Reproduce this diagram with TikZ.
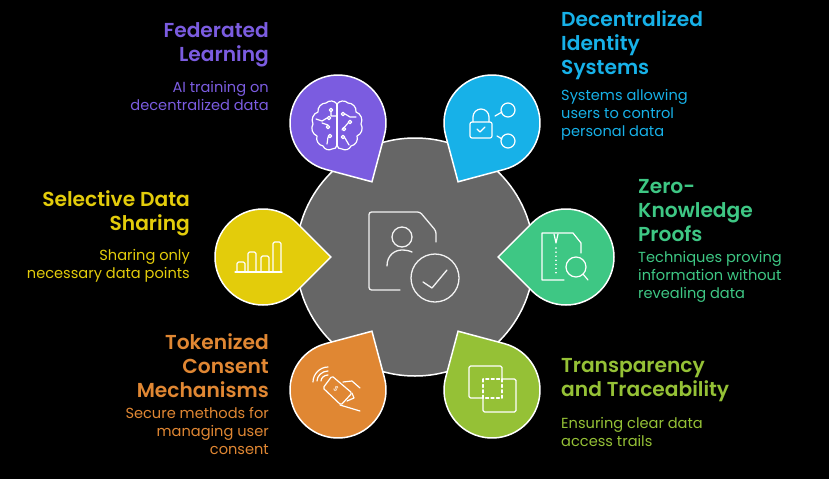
\documentclass[tikz,border=0pt]{standalone}
\usepackage{fontspec}
\setmainfont{Poppins}
\newfontfamily\headfont{Poppins SemiBold}
\usetikzlibrary{positioning}
\definecolor{purplepetal}{HTML}{7B5CE0}
\definecolor{bluepetal}{HTML}{17B1E8}
\definecolor{yellowpetal}{HTML}{E3CC0B}
\definecolor{greenpetal}{HTML}{3EC784}
\definecolor{orangepetal}{HTML}{E08733}
\definecolor{limepetal}{HTML}{95C136}
\definecolor{hubgray}{HTML}{666666}
\tikzset{
  hub/.style = {shape=circle, draw=white, line width=1.5pt, fill=hubgray,
    minimum size=238pt, inner sep=0pt},
  petal/.style = {draw=white, line width=1.5pt, line join=miter},
  icon/.style = {draw=white, line width=1.2pt, line cap=round, line join=round},
  bigicon/.style = {draw=white!92!hubgray, line width=1.3pt, line cap=round, line join=round},
  headleft/.style = {anchor=north east, align=right, inner sep=0pt,
    font={\headfont\fontsize{20.2}{24}\selectfont}},
  headright/.style = {anchor=north west, align=left, inner sep=0pt,
    font={\headfont\fontsize{20.2}{24}\selectfont}},
  textleft/.style = {anchor=north east, align=right, inner sep=0pt,
    font={\fontsize{14.6}{18}\selectfont}},
  textright/.style = {anchor=north west, align=left, inner sep=0pt,
    font={\fontsize{14.6}{18}\selectfont}}
}
% #1 centre, #2 direction of the tip, #3 colour
\newcommand{\petalshape}[3]{
  \draw[petal, fill=#3] (#1) ++(#2+45:48) arc[start angle=#2+45, end angle=#2+315, radius=48]
    -- ++(#2+45:48) -- cycle;
}
\begin{document}
\begin{tikzpicture}[x=1pt, y=-1pt]
  \useasboundingbox (0,0) rectangle (829,479);
  \fill[black] (0,0) rectangle (829,479);

  \node[hub] (hub) at (415,257) {};

  \petalshape{338,123}{60}{purplepetal}
  \petalshape{492,123}{120}{bluepetal}
  \petalshape{263,257}{0}{yellowpetal}
  \petalshape{566,257}{180}{greenpetal}
  \petalshape{338,390}{-60}{orangepetal}
  \petalshape{492,390}{-120}{limepetal}

  % centre icon
  \draw[bigicon, rounded corners=2.5pt] (436,242) -- (436,231) -- (420,212) -- (369,212) -- (369,290) -- (400,290);
  \draw[bigicon] (402,237) circle (10);
  \draw[bigicon] (387,266) .. controls (387,255) and (395,250) .. (402,250) .. controls (406,250) and (410,251) .. (412,252);
  \draw[bigicon] (435,278) circle (24);
  \draw[bigicon] (423,282) -- (432,288) -- (447,270);

  % brain
  \draw[icon, bend right=50] (337,104) to (326,103) to (318,112) to (313,124) to (317,136) to (323,146) to (332,149) to (337,145);
  \draw[icon, bend left=50] (337,104) to (348,103) to (356,112) to (361,124) to (357,136) to (351,146) to (342,149) to (337,145);
  \draw[icon] (337,104) -- (337,145);
  \draw[icon] (331,110) circle (1.8) (331,112) -- (331,116) -- (337,116);
  \draw[icon] (329,118) circle (1.8) (327,118) -- (322,121) -- (316,119);
  \draw[icon] (328,127) circle (1.8) (328,125) -- (322,123);
  \draw[icon] (330,136) circle (1.8) (328,137) -- (327,144);
  \draw[icon] (343,114) circle (1.8) (345,114) -- (350,117) -- (356,117);
  \draw[icon] (350,122) circle (1.8) (348,123) -- (342,130);
  \draw[icon] (344,129) circle (1.8);
  \draw[icon] (343,137) circle (1.8) (345,138) -- (349,145);

  % lock
  \draw[icon, rounded corners=2pt] (470,122) rectangle (492,138);
  \draw[icon] (473,122) -- (473,117) arc[start angle=180, end angle=360, radius=8] -- (489,122);
  \draw[icon] (477,129) -- (480,132) -- (485,127);
  \draw[icon] (508,110) circle (7);
  \draw[icon] (508,141) circle (7);
  \draw[icon] (495,116) -- (502,112);
  \draw[icon] (497,136) -- (502,139);

  % bars
  \draw[icon] (235,272) -- (282,272);
  \foreach \barleft/\bartop in {237/262, 248/252, 261/256, 273/242}
    \draw[icon, rounded corners=1.5pt] (\barleft,272) -- (\barleft,\bartop) -- (\barleft+8,\bartop) -- (\barleft+8,272);

  % document with zipper
  \draw[icon] (581,253) -- (581,243) -- (573,233) -- (542,233) -- (542,280) -- (564,280);
  \draw[icon] (554,234) -- (556,243) -- (558,234);
  \draw[icon, dash pattern=on 0.1pt off 4pt, line width=1.6pt] (556,248) -- (556,275);
  \draw[icon] (576,267) circle (10);
  \draw[icon] (583,274) -- (588,280);

  % card
  \draw[icon, rounded corners=1.5pt] (332,376) -- (323,388) -- (341,405) -- (352,393) -- cycle;
  \node[text=white, rotate=-40, inner sep=0pt, font=\fontsize{7}{7}\selectfont] (dollar) at (336,389) {\$};
  \draw[icon] (313,382) .. controls (313,374) and (320,367) .. (328,367);
  \draw[icon] (317,381) .. controls (317,376) and (322,371) .. (328,371);
  \draw[icon] (321,381) .. controls (321,378) and (324,375) .. (328,375);
  \draw[icon] (343,382) -- (352,381) -- (360,388);
  \draw[icon] (340,405) -- (360,411);
  \draw[icon] (352,393) -- (354,398) -- (347,401);

  % overlapping squares
  \draw[icon, rounded corners=1.5pt] (502,379) -- (502,366) -- (469,366) -- (469,398) -- (483,398);
  \draw[icon, rounded corners=1.5pt] (502,379) -- (516,379) -- (516,412) -- (483,412) -- (483,398);
  \draw[icon, dash pattern=on 3pt off 2.4pt] (483,379) rectangle (502,398);

  % texts
  \node[headleft, text=purplepetal] (fedhead) at (269,22) {Federated\\Learning};
  \node[textleft, text=purplepetal, below=14pt of fedhead.south east, anchor=north east] (fedtext) {AI training on\\decentralized data};

  \node[headright, text=bluepetal] (idhead) at (561,10) {Decentralized\\Identity\\Systems};
  \node[textright, text=bluepetal, below=10pt of idhead.south west, anchor=north west] (idtext) {Systems allowing\\users to control\\personal data};

  \node[headleft, text=yellowpetal] (sharehead) at (190,190) {Selective Data\\Sharing};
  \node[textleft, text=yellowpetal, below=13pt of sharehead.south east, anchor=north east] (sharetext) {Sharing only\\necessary data points};

  \node[headright, text=greenpetal] (zerohead) at (638,179) {Zero-\\Knowledge\\Proofs};
  \node[textright, text=greenpetal, below=10pt of zerohead.south west, anchor=north west] (zerotext) {Techniques proving\\information without\\revealing data};

  \node[headleft, text=orangepetal] (tokenhead) at (269,333) {Tokenized\\Consent\\Mechanisms};
  \node[textleft, text=orangepetal, below=9.5pt of tokenhead.south east, anchor=north east] (tokentext) {Secure methods for\\managing user\\consent};

  \node[headright, text=limepetal] (tracehead) at (561,358) {Transparency\\and Traceability};
  \node[textright, text=limepetal, below=15pt of tracehead.south west, anchor=north west] (tracetext) {Ensuring clear data\\access trails};
\end{tikzpicture}
\end{document}
